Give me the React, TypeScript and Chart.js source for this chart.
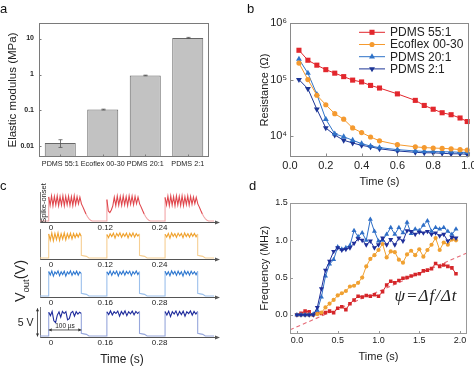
import React, { useEffect, useRef } from 'react';
import { Chart, registerables } from 'chart.js';

Chart.register(...registerables);

const FONT = "'Liberation Sans', Arial, Helvetica, sans-serif";
Chart.defaults.font.family = FONT;
Chart.defaults.color = '#222';

// ---------- Panel a : elastic modulus ----------
const A_LABELS = ['PDMS 55:1', 'Ecoflex 00-30', 'PDMS 20:1', 'PDMS 2:1'];
const A_MODULUS = [0.0124, 0.106, 0.94, 10.4];
const A_ERROR = [0.003, 0.003, 0.02, 0.35];
const A_TICKS = [0.01, 0.1, 1, 10];
const A_TICK_LABELS = ['0.01', '0.1', '1', '10'];

// ---------- Panel b : resistance vs time ----------
const B_TIME = [0.05, 0.1, 0.15, 0.2, 0.25, 0.3, 0.35, 0.4, 0.45, 0.5, 0.6, 0.7, 0.75, 0.8, 0.85, 0.9, 0.95, 0.99];
const B_PDMS55 = [3.3e5, 2.2e5, 1.8e5, 1.5e5, 1.3e5, 1.13e5, 9.8e4, 9.1e4, 7.9e4, 7.1e4, 5.6e4, 4.3e4, 3.5e4, 3.0e4, 2.6e4, 2.4e4, 2.1e4, 1.82e4];
const B_ECOFLEX = [1.96e5, 1.0e5, 5.3e4, 3.6e4, 2.5e4, 2.0e4, 1.4e4, 1.16e4, 9.7e3, 8.3e3, 7.1e3, 6.5e3, 6.3e3, 6.2e3, 6.1e3, 6.0e3, 5.8e3, 5.7e3];
const B_PDMS20 = [2.3e5, 1.3e5, 5.5e4, 2.0e4, 1.1e4, 9.8e3, 8.5e3, 7.4e3, 6.7e3, 6.3e3, 5.8e3, 5.5e3, 5.4e3, 5.4e3, 5.3e3, 5.3e3, 5.2e3, 5.2e3];
const B_PDMS2 = [1.0e5, 6.9e4, 3.0e4, 1.4e4, 1.05e4, 8.5e3, 7.6e3, 6.9e3, 6.5e3, 6.0e3, 5.5e3, 5.2e3, 5.1e3, 5.1e3, 5.0e3, 4.9e3, 4.9e3, 4.8e3];
const B_LABELS = ['PDMS 55:1', 'Ecoflex 00-30', 'PDMS 20:1', 'PDMS 2:1'];
const B_X_TICKS = [0, 0.2, 0.4, 0.6, 0.8, 1.0];
const B_Y_TICKS = [1e4, 1e5, 1e6];
const B_Y_TICK_LABELS = ['10⁴', '10⁵', '10⁶'];

// ---------- Panel c : output voltage waveforms ----------
const C_START = [-0.04, 1.03, 2.1];
const C_HIGH_DUR = 0.6;
const C_BASE = 0.04;
const C_TICK_POS = [0, 1, 2];
const C_TICKS_FAST = ['0', '0.12', '0.24'];
const C_TICKS_SLOW = ['0', '0.16', '0.28'];
const C_R1_P1 = [0.96, 0.64, 1.0, 0.62, 0.98, 0.66, 1.0, 0.63, 0.97, 0.65, 1.0, 0.62, 0.98, 0.66, 0.99, 0.64, 0.97, 0.63, 1.0, 0.67, 0.97, 0.7, 0.95, 0.72];
const C_R1_P2 = [0.86, 0.42, 0.36, 0.46, 0.62, 0.95, 0.63, 1.0, 0.65, 0.98, 0.64, 1.0, 0.66, 0.97, 0.63, 1.0, 0.68, 0.99, 0.66, 0.98, 0.7, 0.95, 0.72];
const C_R1_P3 = [0.94, 0.66, 0.99, 0.63, 1.0, 0.65, 0.97, 0.62, 1.0, 0.66, 0.98, 0.64, 1.0, 0.63, 0.97, 0.67, 1.0, 0.65, 0.98, 0.68, 0.96, 0.7, 0.94, 0.72];
const C_R1_TAIL = [0.7, 0.58, 0.44, 0.31, 0.2, 0.12, 0.07, 0.04];
const C_R2_P1 = [0.96, 0.72, 1.0, 0.7, 0.98, 0.74, 1.0, 0.71, 0.97, 0.76, 1.0, 0.73, 0.97, 0.8, 0.99, 0.77, 0.98, 0.82, 0.97, 0.84, 0.98, 0.86];
const C_R2_P2 = [0.94, 0.82, 0.97, 0.86, 0.99, 0.8, 0.98, 0.88, 1.0, 0.83, 0.97, 0.87, 0.99, 0.81, 0.98, 0.86, 1.0, 0.84, 0.97, 0.88, 0.96];
const C_R2_P3 = [0.95, 0.84, 0.98, 0.8, 1.0, 0.87, 0.97, 0.83, 0.99, 0.88, 0.98, 0.82, 1.0, 0.86, 0.97, 0.84, 0.99, 0.87, 0.98, 0.85, 0.96];
const C_R3_P1 = [0.98, 0.84, 1.0, 0.8, 0.96, 0.88, 1.0, 0.82, 0.97, 0.86, 0.99, 0.8, 0.96, 0.88, 1.0, 0.83, 0.97, 0.87, 0.99, 0.84, 0.96, 0.9];
const C_R3_P2 = [0.97, 0.86, 1.0, 0.83, 0.98, 0.88, 0.99, 0.81, 0.97, 0.87, 1.0, 0.84, 0.98, 0.89, 0.99, 0.82, 0.97, 0.88, 1.0, 0.86, 0.97];
const C_R3_P3 = [0.99, 0.85, 0.97, 0.82, 1.0, 0.88, 0.98, 0.83, 0.99, 0.86, 0.97, 0.8, 1.0, 0.87, 0.98, 0.84, 0.99, 0.88, 0.97, 0.85, 0.98];
const C_R4_P1 = [0.95, 0.82, 0.98, 0.62, 0.55, 0.84, 0.96, 0.76, 0.98, 0.9, 0.97, 0.66, 0.7, 0.93, 0.98, 0.8, 0.97, 0.88, 0.95, 0.9];
const C_R4_P2 = [0.97, 0.86, 1.0, 0.84, 0.97, 0.9, 0.99, 0.8, 0.98, 0.87, 1.0, 0.82, 0.97, 0.89, 0.99, 0.85, 0.98, 0.9, 0.97];
const C_R4_P3 = [0.98, 0.84, 0.99, 0.78, 0.97, 0.88, 1.0, 0.82, 0.98, 0.86, 0.99, 0.8, 0.97, 0.9, 1.0, 0.84, 0.98, 0.88, 0.97];
const C_SHARP_TAIL = [0.14, 0.12, 0.1, 0.04];
const C_SCALE_BAR_V = 1.1;
const C_SCALE_BAR_LEVEL = 0.27;

// ---------- Panel d : frequency vs time ----------
const D_TIME = [0, 0.05, 0.1, 0.15, 0.2, 0.25, 0.3, 0.35, 0.4, 0.45, 0.5, 0.55, 0.6, 0.65, 0.7, 0.75, 0.8, 0.85, 0.9, 0.95, 1.0, 1.05, 1.1, 1.15, 1.2, 1.25, 1.3, 1.35, 1.4, 1.45, 1.5, 1.55, 1.6, 1.65, 1.7, 1.75, 1.8, 1.85, 1.9, 1.95];
const D_PDMS55 = [0, 0.02, 0.05, 0.04, 0, 0.02, 0.02, 0.03, 0.05, 0.03, 0.09, 0.11, 0.07, 0.15, 0.2, 0.25, 0.24, 0.26, 0.25, 0.27, 0.25, 0.31, 0.4, 0.45, 0.43, 0.46, 0.49, 0.5, 0.52, 0.54, 0.55, 0.59, 0.6, 0.62, 0.69, 0.65, 0.67, 0.65, 0.63, 0.55];
const D_ECOFLEX = [0, 0, 0, 0, 0, 0.01, 0.03, 0.1, 0.15, 0.2, 0.26, 0.29, 0.32, 0.38, 0.39, 0.43, 0.5, 0.65, 0.75, 0.8, 0.87, 0.95, 0.77, 0.85, 0.84, 0.74, 0.7, 0.81, 0.86, 0.8, 0.88, 0.78, 0.87, 0.94, 1.03, 0.87, 0.97, 0.94, 1.01, 1.0];
const D_PDMS20 = [0, 0, 0, 0, 0.01, 0.06, 0.24, 0.52, 0.68, 0.74, 0.91, 0.88, 0.9, 0.93, 1.13, 1.05, 1.1, 1.0, 1.28, 1.12, 0.99, 1.0, 1.08, 1.17, 1.08, 1.17, 1.1, 1.24, 1.09, 1.15, 1.13, 1.2, 1.26, 1.12, 1.17, 1.15, 1.17, 1.12, 1.08, 1.15];
const D_PDMS2 = [0, 0, 0, 0, 0, 0.1, 0.35, 0.6, 0.72, 0.85, 0.9, 0.87, 0.88, 0.9, 0.96, 1.02, 1.0, 0.94, 0.99, 0.9, 0.94, 1.03, 0.94, 1.01, 0.94, 1.03, 0.99, 1.13, 1.12, 1.08, 1.11, 1.1, 1.12, 1.08, 1.1, 1.06, 1.08, 0.99, 1.04, 1.03];
const D_TREND_T = [-0.085, 2.085];
const D_TREND_F = [-0.2, 0.83];
const D_X_TICKS = [0, 0.5, 1.0, 1.5, 2.0];
const D_Y_TICKS = [0, 0.5, 1.0, 1.5];

// ---------- helpers ----------
type Marker = 'rect' | 'circle' | 'up' | 'down';

function drawMarker(ctx: CanvasRenderingContext2D, kind: Marker, x: number, y: number, color: string, r: number) {
  ctx.save();
  ctx.fillStyle = color;
  ctx.beginPath();
  if (kind === 'rect') {
    const s = r * Math.SQRT1_2;
    ctx.rect(x - s, y - s, 2 * s, 2 * s);
  } else if (kind === 'circle') {
    ctx.arc(x, y, r * 0.8, 0, Math.PI * 2);
  } else {
    const d = kind === 'up' ? 1 : -1;
    ctx.moveTo(x, y - d * r);
    ctx.lineTo(x - r * 0.866, y + d * r * 0.5);
    ctx.lineTo(x + r * 0.866, y + d * r * 0.5);
    ctx.closePath();
  }
  ctx.fill();
  ctx.restore();
}

function framePlugin(color: string, tickLen: number) {
  return {
    id: 'frame',
    afterDraw(chart: any) {
      const { ctx, chartArea: a, scales } = chart;
      ctx.save();
      ctx.strokeStyle = color;
      ctx.lineWidth = 1;
      const l = Math.round(a.left) + 0.5;
      const t = Math.round(a.top) + 0.5;
      const r = Math.round(a.right) - 0.5;
      const b = Math.round(a.bottom) - 0.5;
      ctx.strokeRect(l, t, r - l, b - t);
      if (tickLen > 0) {
        ctx.beginPath();
        (scales.x.ticks || []).forEach((tk: any) => {
          const px = Math.round(scales.x.getPixelForValue(tk.value)) + 0.5;
          ctx.moveTo(px, b);
          ctx.lineTo(px, b - tickLen);
        });
        (scales.y.ticks || []).forEach((tk: any) => {
          const py = Math.round(scales.y.getPixelForValue(tk.value)) + 0.5;
          ctx.moveTo(l, py);
          ctx.lineTo(l + tickLen, py);
        });
        ctx.stroke();
      }
      ctx.restore();
    },
  };
}

const errorBarPlugin = {
  id: 'errorBars',
  afterDatasetsDraw(chart: any) {
    const { ctx, scales } = chart;
    const meta = chart.getDatasetMeta(0);
    ctx.save();
    ctx.strokeStyle = '#555';
    ctx.lineWidth = 0.8;
    meta.data.forEach((bar: any, i: number) => {
      const x = Math.round(bar.x) + 0.5;
      const lo = scales.y.getPixelForValue(A_MODULUS[i] - A_ERROR[i]);
      const hi = scales.y.getPixelForValue(A_MODULUS[i] + A_ERROR[i]);
      ctx.beginPath();
      ctx.moveTo(x, lo);
      ctx.lineTo(x, hi);
      ctx.moveTo(x - 2, lo);
      ctx.lineTo(x + 2, lo);
      ctx.moveTo(x - 2, hi);
      ctx.lineTo(x + 2, hi);
      ctx.stroke();
    });
    ctx.restore();
  },
};

function ChartBox(props: { left: number; top: number; width: number; height: number; make: () => any }) {
  const ref = useRef<HTMLCanvasElement>(null);
  useEffect(() => {
    const chart = new Chart(ref.current as HTMLCanvasElement, props.make());
    return () => chart.destroy();
  }, []);
  return (
    <canvas
      ref={ref}
      width={props.width}
      height={props.height}
      style={{ position: 'absolute', left: props.left, top: props.top, width: props.width, height: props.height }}
    />
  );
}

const baseOptions = {
  responsive: false,
  animation: false,
  devicePixelRatio: 1,
  plugins: { legend: { display: false }, tooltip: { enabled: false } },
};

// ---------- Panel a ----------
function makeA() {
  return {
    type: 'bar',
    data: {
      labels: A_LABELS,
      datasets: [
        {
          data: A_MODULUS,
          backgroundColor: '#c2c2c2',
          borderColor: '#666666',
          borderWidth: 1,
          barPercentage: 0.73,
          categoryPercentage: 1,
        },
      ],
    },
    options: {
      ...baseOptions,
      layout: { padding: { left: 0, right: 28, top: 23, bottom: 0 } },
      scales: {
        x: {
          grid: { display: false, drawTicks: false },
          border: { display: false },
          ticks: { font: { size: 7.2 }, color: '#222', padding: 3, autoSkip: false, maxRotation: 0 },
          afterFit: (s: any) => { s.height = 28; },
        },
        y: {
          type: 'logarithmic',
          min: 0.0051,
          max: 27,
          grid: { display: false, drawTicks: false },
          border: { display: false },
          afterBuildTicks: (s: any) => { s.ticks = A_TICKS.map((v) => ({ value: v })); },
          ticks: {
            callback: (_v: any, i: number) => A_TICK_LABELS[i],
            font: { size: 7, weight: 'bold' },
            color: '#222',
            padding: 5,
          },
          title: { display: true, text: 'Elastic modulus (MPa)', font: { size: 11.5 }, color: '#222', padding: { top: 6, bottom: 0 } },
          afterFit: (s: any) => { s.width = 39; },
        },
      },
    },
    plugins: [framePlugin('#7a7a7a', 2), errorBarPlugin],
  };
}

// ---------- Panel b ----------
const B_STYLES = [
  { color: '#e2272d', marker: 'rect' as Marker, radius: 3.6, rot: 0 },
  { color: '#f59a2f', marker: 'circle' as Marker, radius: 3.2, rot: 0 },
  { color: '#2f73c8', marker: 'up' as Marker, radius: 3.4, rot: 0 },
  { color: '#1c3596', marker: 'down' as Marker, radius: 3.4, rot: 180 },
];
const B_SERIES = [B_PDMS55, B_ECOFLEX, B_PDMS20, B_PDMS2];

const bLegendPlugin = {
  id: 'bLegend',
  afterDraw(chart: any) {
    const { ctx, chartArea: a } = chart;
    ctx.save();
    ctx.font = `12px ${FONT}`;
    ctx.textBaseline = 'middle';
    ctx.textAlign = 'left';
    B_LABELS.forEach((label, i) => {
      const st = B_STYLES[i];
      const y = a.top + 9.3 + i * 12.2;
      const x0 = a.left + 69;
      const x1 = a.left + 95;
      ctx.strokeStyle = st.color;
      ctx.lineWidth = 1;
      ctx.beginPath();
      ctx.moveTo(x0, y);
      ctx.lineTo(x1, y);
      ctx.stroke();
      drawMarker(ctx, st.marker, (x0 + x1) / 2, y, st.color, st.radius);
      ctx.fillStyle = '#222';
      ctx.fillText(label, a.left + 100, y + 0.5);
    });
    ctx.restore();
  },
};

function makeB() {
  return {
    type: 'line',
    data: {
      datasets: B_SERIES.map((vals, i) => ({
        label: B_LABELS[i],
        data: vals.map((v, k) => ({ x: B_TIME[k], y: v })),
        borderColor: B_STYLES[i].color,
        backgroundColor: B_STYLES[i].color,
        borderWidth: 1,
        pointStyle: B_STYLES[i].marker === 'rect' ? 'rect' : B_STYLES[i].marker === 'circle' ? 'circle' : 'triangle',
        pointRotation: B_STYLES[i].rot,
        pointRadius: B_STYLES[i].marker === 'circle' ? 2.6 : B_STYLES[i].radius,
        pointBorderWidth: 0,
        tension: 0,
        clip: false,
      })),
    },
    options: {
      ...baseOptions,
      layout: { padding: { left: 0, right: 18, top: 23, bottom: 0 } },
      scales: {
        x: {
          type: 'linear',
          min: 0,
          max: 1.0,
          grid: { display: false, drawTicks: false },
          border: { display: false },
          afterBuildTicks: (s: any) => { s.ticks = B_X_TICKS.map((v) => ({ value: v })); },
          ticks: { callback: (v: any) => Number(v).toFixed(1), font: { size: 11 }, color: '#222', padding: 2.4, maxRotation: 0, autoSkip: false },
          title: { display: true, text: 'Time (s)', font: { size: 11 }, color: '#222', padding: { top: 0, bottom: 3.7 } },
          afterFit: (s: any) => { s.height = 35; },
        },
        y: {
          type: 'logarithmic',
          min: 4300,
          max: 1e6,
          grid: { display: false, drawTicks: false },
          border: { display: false },
          afterBuildTicks: (s: any) => { s.ticks = B_Y_TICKS.map((v) => ({ value: v })); },
          ticks: { callback: (_v: any, i: number) => B_Y_TICK_LABELS[i], font: { size: 11 }, color: '#222', padding: 3 },
          title: { display: true, text: 'Resistance (Ω)', font: { size: 11 }, color: '#222', padding: { top: 21, bottom: 0 } },
          afterFit: (s: any) => { s.width = 53; },
        },
      },
    },
    plugins: [framePlugin('#8a8a8a', 3), bLegendPlugin],
  };
}

// ---------- Panel c ----------
function buildRow(pulses: number[][], tail: number[], tailDur: number) {
  const pts: { x: number; y: number }[] = [{ x: -0.2, y: C_BASE }];
  C_START.forEach((s, p) => {
    pts.push({ x: s, y: C_BASE });
    const h = pulses[p];
    h.forEach((v, i) => pts.push({ x: s + (C_HIGH_DUR * i) / (h.length - 1), y: v }));
    tail.forEach((v, i) => pts.push({ x: s + C_HIGH_DUR + (tailDur * i) / (tail.length - 1), y: v }));
  });
  pts.push({ x: 3.0, y: C_BASE });
  return pts;
}

const arrowPlugin = {
  id: 'axisArrow',
  afterDraw(chart: any) {
    const { ctx, chartArea: a } = chart;
    ctx.save();
    ctx.strokeStyle = '#555';
    ctx.fillStyle = '#555';
    ctx.lineWidth = 1;
    const y = Math.round(a.bottom) + 0.5;
    ctx.beginPath();
    ctx.moveTo(a.right - 1, y);
    ctx.lineTo(a.right + 3, y);
    ctx.stroke();
    ctx.beginPath();
    ctx.moveTo(a.right + 6, y);
    ctx.lineTo(a.right + 1, y - 2);
    ctx.lineTo(a.right + 1, y + 2);
    ctx.closePath();
    ctx.fill();
    ctx.restore();
  },
};

function arrowLine(ctx: CanvasRenderingContext2D, x0: number, y0: number, x1: number, y1: number) {
  const ang = Math.atan2(y1 - y0, x1 - x0);
  ctx.beginPath();
  ctx.moveTo(x0, y0);
  ctx.lineTo(x1, y1);
  ctx.stroke();
  const head = (x: number, y: number, a: number) => {
    ctx.beginPath();
    ctx.moveTo(x, y);
    ctx.lineTo(x - 3 * Math.cos(a) + 1.6 * Math.sin(a), y - 3 * Math.sin(a) - 1.6 * Math.cos(a));
    ctx.lineTo(x - 3 * Math.cos(a) - 1.6 * Math.sin(a), y - 3 * Math.sin(a) + 1.6 * Math.cos(a));
    ctx.closePath();
    ctx.fill();
  };
  head(x1, y1, ang);
  head(x0, y0, ang + Math.PI);
}

const scaleBarPlugin = {
  id: 'scaleBars',
  afterDraw(chart: any) {
    const { ctx, chartArea: a, scales } = chart;
    ctx.save();
    ctx.strokeStyle = '#333';
    ctx.fillStyle = '#333';
    ctx.lineWidth = 0.8;
    const vx = a.left - 2.5;
    const y0 = scales.y.getPixelForValue(0);
    const y1 = scales.y.getPixelForValue(C_SCALE_BAR_V);
    arrowLine(ctx, vx, y0 - 0.5, vx, y1);
    ctx.fillStyle = '#222';
    ctx.font = `10.5px ${FONT}`;
    ctx.textAlign = 'right';
    ctx.textBaseline = 'middle';
    ctx.fillText('5 V', vx - 4, (y0 + y1) / 2 + 0.5);
    const x0 = scales.x.getPixelForValue(C_START[0]);
    const x1 = scales.x.getPixelForValue(C_START[0] + C_HIGH_DUR);
    const hy = scales.y.getPixelForValue(C_SCALE_BAR_LEVEL);
    ctx.fillStyle = '#333';
    arrowLine(ctx, x0, hy, x1, hy);
    ctx.fillStyle = '#222';
    ctx.font = `6.5px ${FONT}`;
    ctx.textAlign = 'center';
    ctx.textBaseline = 'bottom';
    ctx.fillText('100 µs', (x0 + x1) / 2, hy - 1);
    ctx.restore();
  },
};

const C_ROW_STYLES = [
  { dark: '#e0474d', light: '#f2a5a7', top: 190 },
  { dark: '#f0a22e', light: '#f6cf93', top: 227 },
  { dark: '#2f78d0', light: '#9cc0ec', top: 265 },
  { dark: '#1f2c9c', light: '#97a7dc', top: 305 },
];

const C_ROW_DATA = [
  { pulses: [C_R1_P1, C_R1_P2, C_R1_P3], tail: C_R1_TAIL, tailDur: 0.2, labels: C_TICKS_FAST },
  { pulses: [C_R2_P1, C_R2_P2, C_R2_P3], tail: C_SHARP_TAIL, tailDur: 0.14, labels: C_TICKS_FAST },
  { pulses: [C_R3_P1, C_R3_P2, C_R3_P3], tail: C_SHARP_TAIL, tailDur: 0.14, labels: C_TICKS_SLOW },
  { pulses: [C_R4_P1, C_R4_P2, C_R4_P3], tail: C_SHARP_TAIL, tailDur: 0.14, labels: C_TICKS_SLOW },
];

function makeRow(i: number) {
  const d = C_ROW_DATA[i];
  const st = C_ROW_STYLES[i];
  return () => ({
    type: 'line',
    data: {
      datasets: [
        {
          data: buildRow(d.pulses, d.tail, d.tailDur),
          borderColor: st.dark,
          borderWidth: 1.1,
          pointRadius: 0,
          tension: 0,
          segment: {
            borderColor: (c: any) => (c.p0.parsed.y < 0.3 || c.p1.parsed.y < 0.3 ? st.light : st.dark),
          },
        },
      ],
    },
    options: {
      ...baseOptions,
      layout: { padding: { left: 30, right: 16, top: 2, bottom: 0 } },
      scales: {
        x: {
          type: 'linear',
          min: -0.2,
          max: 3.0,
          grid: { display: false, drawTicks: false },
          border: { display: true, color: '#555', width: 1 },
          afterBuildTicks: (s: any) => { s.ticks = C_TICK_POS.map((v) => ({ value: v })); },
          ticks: { callback: (_v: any, k: number) => d.labels[k], font: { size: 8 }, color: '#222', padding: 1, maxRotation: 0, autoSkip: false },
          afterFit: (s: any) => { s.height = 14; },
        },
        y: {
          min: 0,
          max: 1.15,
          grid: { display: false, drawTicks: false },
          border: { display: true, color: '#777', width: 1 },
          ticks: { display: false },
          afterFit: (s: any) => { s.width = 0; },
        },
      },
    },
    plugins: i === 3 ? [arrowPlugin, scaleBarPlugin] : [arrowPlugin],
  });
}

// ---------- Panel d ----------
const D_STYLES = [
  { label: 'PDMS 2:1', color: '#1f2f9a', style: 'triangle', rot: 180, r: 2.9 },
  { label: 'PDMS 20:1', color: '#2e6ec6', style: 'triangle', rot: 0, r: 2.9 },
  { label: 'Ecoflex 00-30', color: '#f0a132', style: 'circle', rot: 0, r: 2.1 },
  { label: 'PDMS 55:1', color: '#d5262a', style: 'rect', rot: 0, r: 2.5 },
];
const D_SERIES = [D_PDMS2, D_PDMS20, D_ECOFLEX, D_PDMS55];

function makeD() {
  const sets: any[] = D_SERIES.map((vals, i) => ({
    label: D_STYLES[i].label,
    data: vals.map((v, k) => ({ x: D_TIME[k], y: v })),
    borderColor: D_STYLES[i].color,
    backgroundColor: D_STYLES[i].color,
    borderWidth: 1,
    pointStyle: D_STYLES[i].style,
    pointRotation: D_STYLES[i].rot,
    pointRadius: D_STYLES[i].r,
    pointBorderWidth: 0,
    tension: 0,
  }));
  sets.push({
    label: 'trend',
    data: D_TREND_T.map((t, k) => ({ x: t, y: D_TREND_F[k] })),
    borderColor: '#e66a76',
    borderWidth: 1.1,
    borderDash: [4, 3],
    pointRadius: 0,
    tension: 0,
  });
  return {
    type: 'line',
    data: { datasets: sets },
    options: {
      ...baseOptions,
      layout: { padding: { left: 0, right: 7, top: 18, bottom: 0 } },
      scales: {
        x: {
          type: 'linear',
          min: -0.085,
          max: 2.085,
          grid: { display: false, drawTicks: false },
          border: { display: false },
          afterBuildTicks: (s: any) => { s.ticks = D_X_TICKS.map((v) => ({ value: v })); },
          ticks: { callback: (v: any) => Number(v).toFixed(1), font: { size: 9 }, color: '#222', padding: 1.3, maxRotation: 0, autoSkip: false },
          title: { display: true, text: 'Time (s)', font: { size: 11 }, color: '#222', padding: { top: 0, bottom: 6.5 } },
          afterFit: (s: any) => { s.height = 36.5; },
        },
        y: {
          type: 'linear',
          min: -0.25,
          max: 1.5,
          grid: { display: false, drawTicks: false },
          border: { display: false },
          afterBuildTicks: (s: any) => { s.ticks = D_Y_TICKS.map((v) => ({ value: v })); },
          ticks: { callback: (v: any) => Number(v).toFixed(1), font: { size: 9 }, color: '#222', padding: 2.3 },
          title: { display: true, text: 'Frequency (MHz)', font: { size: 11 }, color: '#222', padding: { top: 21, bottom: 0 } },
          afterFit: (s: any) => { s.width = 53; },
        },
      },
    },
    plugins: [framePlugin('#999999', 2.5)],
  };
}

function Label(props: { x: number; y: number; size: number; rotate?: boolean; italic?: boolean; serif?: boolean; spacing?: number; children: any }) {
  return (
    <div
      style={{
        position: 'absolute',
        left: props.x,
        top: props.y,
        transform: `translate(-50%, -50%)${props.rotate ? ' rotate(-90deg)' : ''}`,
        whiteSpace: 'nowrap',
        fontSize: props.size,
        lineHeight: 1,
        fontStyle: props.italic ? 'italic' : 'normal',
        fontFamily: props.serif ? "'Liberation Serif', 'Times New Roman', serif" : FONT,
        letterSpacing: props.spacing || 0,
        color: '#222',
      }}
    >
      {props.children}
    </div>
  );
}

function Letter(props: { x: number; y: number; text: string }) {
  return (
    <div style={{ position: 'absolute', left: props.x, top: props.y, fontSize: 13, lineHeight: '13px', fontFamily: FONT, color: '#111' }}>
      {props.text}
    </div>
  );
}

export default function App() {
  return (
    <div
      style={{
        position: 'fixed',
        left: 0,
        top: 0,
        width: 474,
        height: 370,
        overflow: 'hidden',
        background: '#fff',
        fontFamily: FONT,
      }}
    >
      <ChartBox left={0} top={0} width={237} height={185} make={makeA} />
      <ChartBox left={237} top={0} width={250} height={192} make={makeB} />
      <ChartBox left={237} top={185} width={237} height={185} make={makeD} />
      {C_ROW_STYLES.map((st, i) => (
        <ChartBox key={i} left={10} top={st.top} width={220} height={46} make={makeRow(i)} />
      ))}
      <Letter x={0} y={2} text="a" />
      <Letter x={247} y={2} text="b" />
      <Letter x={0} y={179} text="c" />
      <Letter x={249} y={179} text="d" />
      <Label x={43.5} y={203} size={7.5} rotate>Spike-onset</Label>
      <Label x={22} y={281} size={14.5} rotate>
        V<sub style={{ fontSize: 9.5, verticalAlign: 'sub' }}>out</sub>(V)
      </Label>
      <Label x={122} y={359} size={12}>Time (s)</Label>
      <Label x={426} y={295} size={17} italic serif spacing={1}>ψ=Δf/Δt</Label>
    </div>
  );
}
